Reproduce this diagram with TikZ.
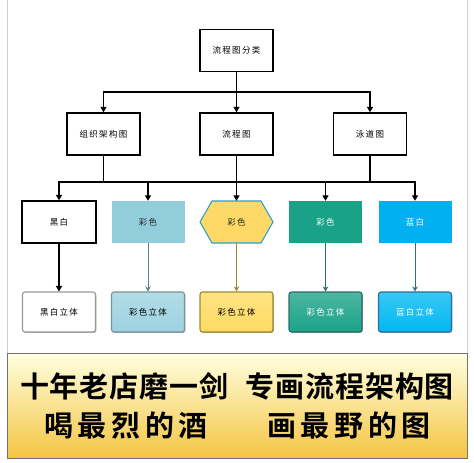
\documentclass[tikz,border=0pt]{standalone}
\usepackage{fontspec}
\newfontfamily\cjk{Noto Sans CJK SC}[BoldFont={Noto Sans CJK SC Bold}]
\newfontfamily\cjksp{Noto Sans CJK SC}[LetterSpace=15,BoldFont={Noto Sans CJK SC Bold}]
\newfontfamily\banA{Noto Sans CJK SC}[LetterSpace=3,BoldFont={Noto Sans CJK SC Bold}]
\newfontfamily\banB{Noto Sans CJK SC}[LetterSpace=16,BoldFont={Noto Sans CJK SC Bold}]
\usetikzlibrary{arrows.meta,shadows}
\definecolor{lblue}{HTML}{92CDDC}
\definecolor{hexy}{HTML}{FFD966}
\definecolor{hexb}{HTML}{2E9FD0}
\definecolor{teal1}{HTML}{1AA288}
\definecolor{blue1}{HTML}{00B0F0}
\definecolor{framec}{HTML}{CFCFCF}
\definecolor{gold}{HTML}{F4C542}
\definecolor{ab}{HTML}{5F7F8C}
\definecolor{ay}{HTML}{9C8A2E}
\definecolor{at}{HTML}{2F6B64}
\definecolor{aq}{HTML}{2E6E96}
\tikzset{
  x=1pt,y=1pt,
  txt/.style={font=\cjksp\fontsize{8.5}{10}\selectfont},
  plain/.style={txt,draw=black,line width=1.4pt,fill=white,minimum width=73pt,minimum height=42pt,inner sep=0pt},
  flat/.style={txt,fill=#1,minimum width=73pt,minimum height=42pt,inner sep=0pt},
  bev/.style 2 args={txt,rounded corners=2.5pt,top color=#1!78!white,bottom color=#1,draw=#2,line width=1.1pt,
     minimum width=73pt,minimum height=40pt,inner sep=0pt,
     drop shadow={shadow xshift=0.8pt,shadow yshift=-0.9pt,fill=black,opacity=0.35}},
  arr/.style={line width=1.4pt,-{Triangle[length=5.5pt,width=6pt]}},
  ln/.style={line width=1.4pt},
  thin/.style={line width=1pt,draw=#1,-{Stealth[length=5pt,width=5.5pt,inset=1.5pt]}},
}
\begin{document}
\begin{tikzpicture}
\useasboundingbox (0,0) rectangle (474,-463);
% frame
\draw[framec,line width=0.9pt] (7,0) -- (7,-353) (467,0) -- (467,-353);
% banner
\shade[top color=yellow!12!white,bottom color=gold,draw=black!55,line width=0.9pt]
  (7,-353) rectangle (467,-458);
\node[font=\banA\bfseries\fontsize{29}{32}\selectfont] (b1) at (237,-386) {十年老店磨一剑\hspace{0.6em}专画流程架构图};
\node[font=\banB\bfseries\fontsize{29}{32}\selectfont] (b2) at (237.5,-426) {喝最烈的酒\hspace{2.05em}画最野的图};
% top
\node[plain] (top) at (236.5,-50.5) {流程图分类};
% row 2
\node[plain] (ra) at (103.5,-134) {组织架构图};
\node[plain] (rb) at (236.5,-134) {流程图};
\node[plain] (rc) at (370,-134) {泳道图};
% row 3
\node[plain,minimum width=74pt] (ca) at (59,-222) {黑白};
\node[flat=lblue,text=black!85] (cb) at (148,-222) {彩色};
\filldraw[fill=hexy,draw=hexb,line width=1.1pt]
  (200,-222) -- (212,-201) -- (261,-201) -- (273,-222) -- (261,-243) -- (212,-243) -- cycle;
\node[txt,minimum width=73pt,minimum height=42pt,inner sep=0pt,text=black!85] (cc) at (236.5,-222) {彩色};
\node[flat=teal1,text=white] (cd) at (325.5,-222) {彩色};
\node[flat=blue1,text=white] (ce) at (415,-222) {蓝白};
% row 4
\node[bev={white}{black!40}] (da) at (59,-312) {黑白立体};
\node[bev={lblue!90!white}{ab!85}] (db) at (148,-312) {彩色立体};
\node[bev={hexy!95!yellow}{ay}] (dc) at (236.5,-312) {彩色立体};
\node[bev={teal1}{at},text=white] (dd) at (325.5,-312) {彩色立体};
\node[bev={blue1!90!cyan}{aq},text=white] (de) at (415,-312) {蓝白立体};
% connectors level 1
\coordinate (bus1) at (236.5,-92);
\coordinate (bus2) at (236.5,-182);
\draw[ln] (top.south) -- (top.south |- bus1);
\draw[arr] (top.south |- bus1) -| (ra.north);
\draw[arr] (top.south |- bus1) -| (rc.north);
\draw[arr] (top.south) -- (rb.north);
% connectors level 2
\draw[ln] (ra.south) -- (ra.south |- bus2);
\draw[arr] (ra.south |- bus2) -| (ca.north);
\draw[arr] (ra.south |- bus2) -| (cb.north);
\draw[ln] (ra.south |- bus2) -- (rc.south |- bus2);
\draw[arr] (rb.south) -- (cc.north);
\draw[ln] (rc.south) -- (rc.south |- bus2);
\draw[arr] (rc.south |- bus2) -| (cd.north);
\draw[arr] (rc.south |- bus2) -| (ce.north);
% connectors level 3
\draw[arr] (ca.south) -- (da.north);
\draw[thin=ab] (cb.south) -- (db.north);
\draw[thin=ay] (cc.south) -- (dc.north);
\draw[thin=at] (cd.south) -- (dd.north);
\draw[thin=aq] (ce.south) -- (de.north);
\end{tikzpicture}
\end{document}
